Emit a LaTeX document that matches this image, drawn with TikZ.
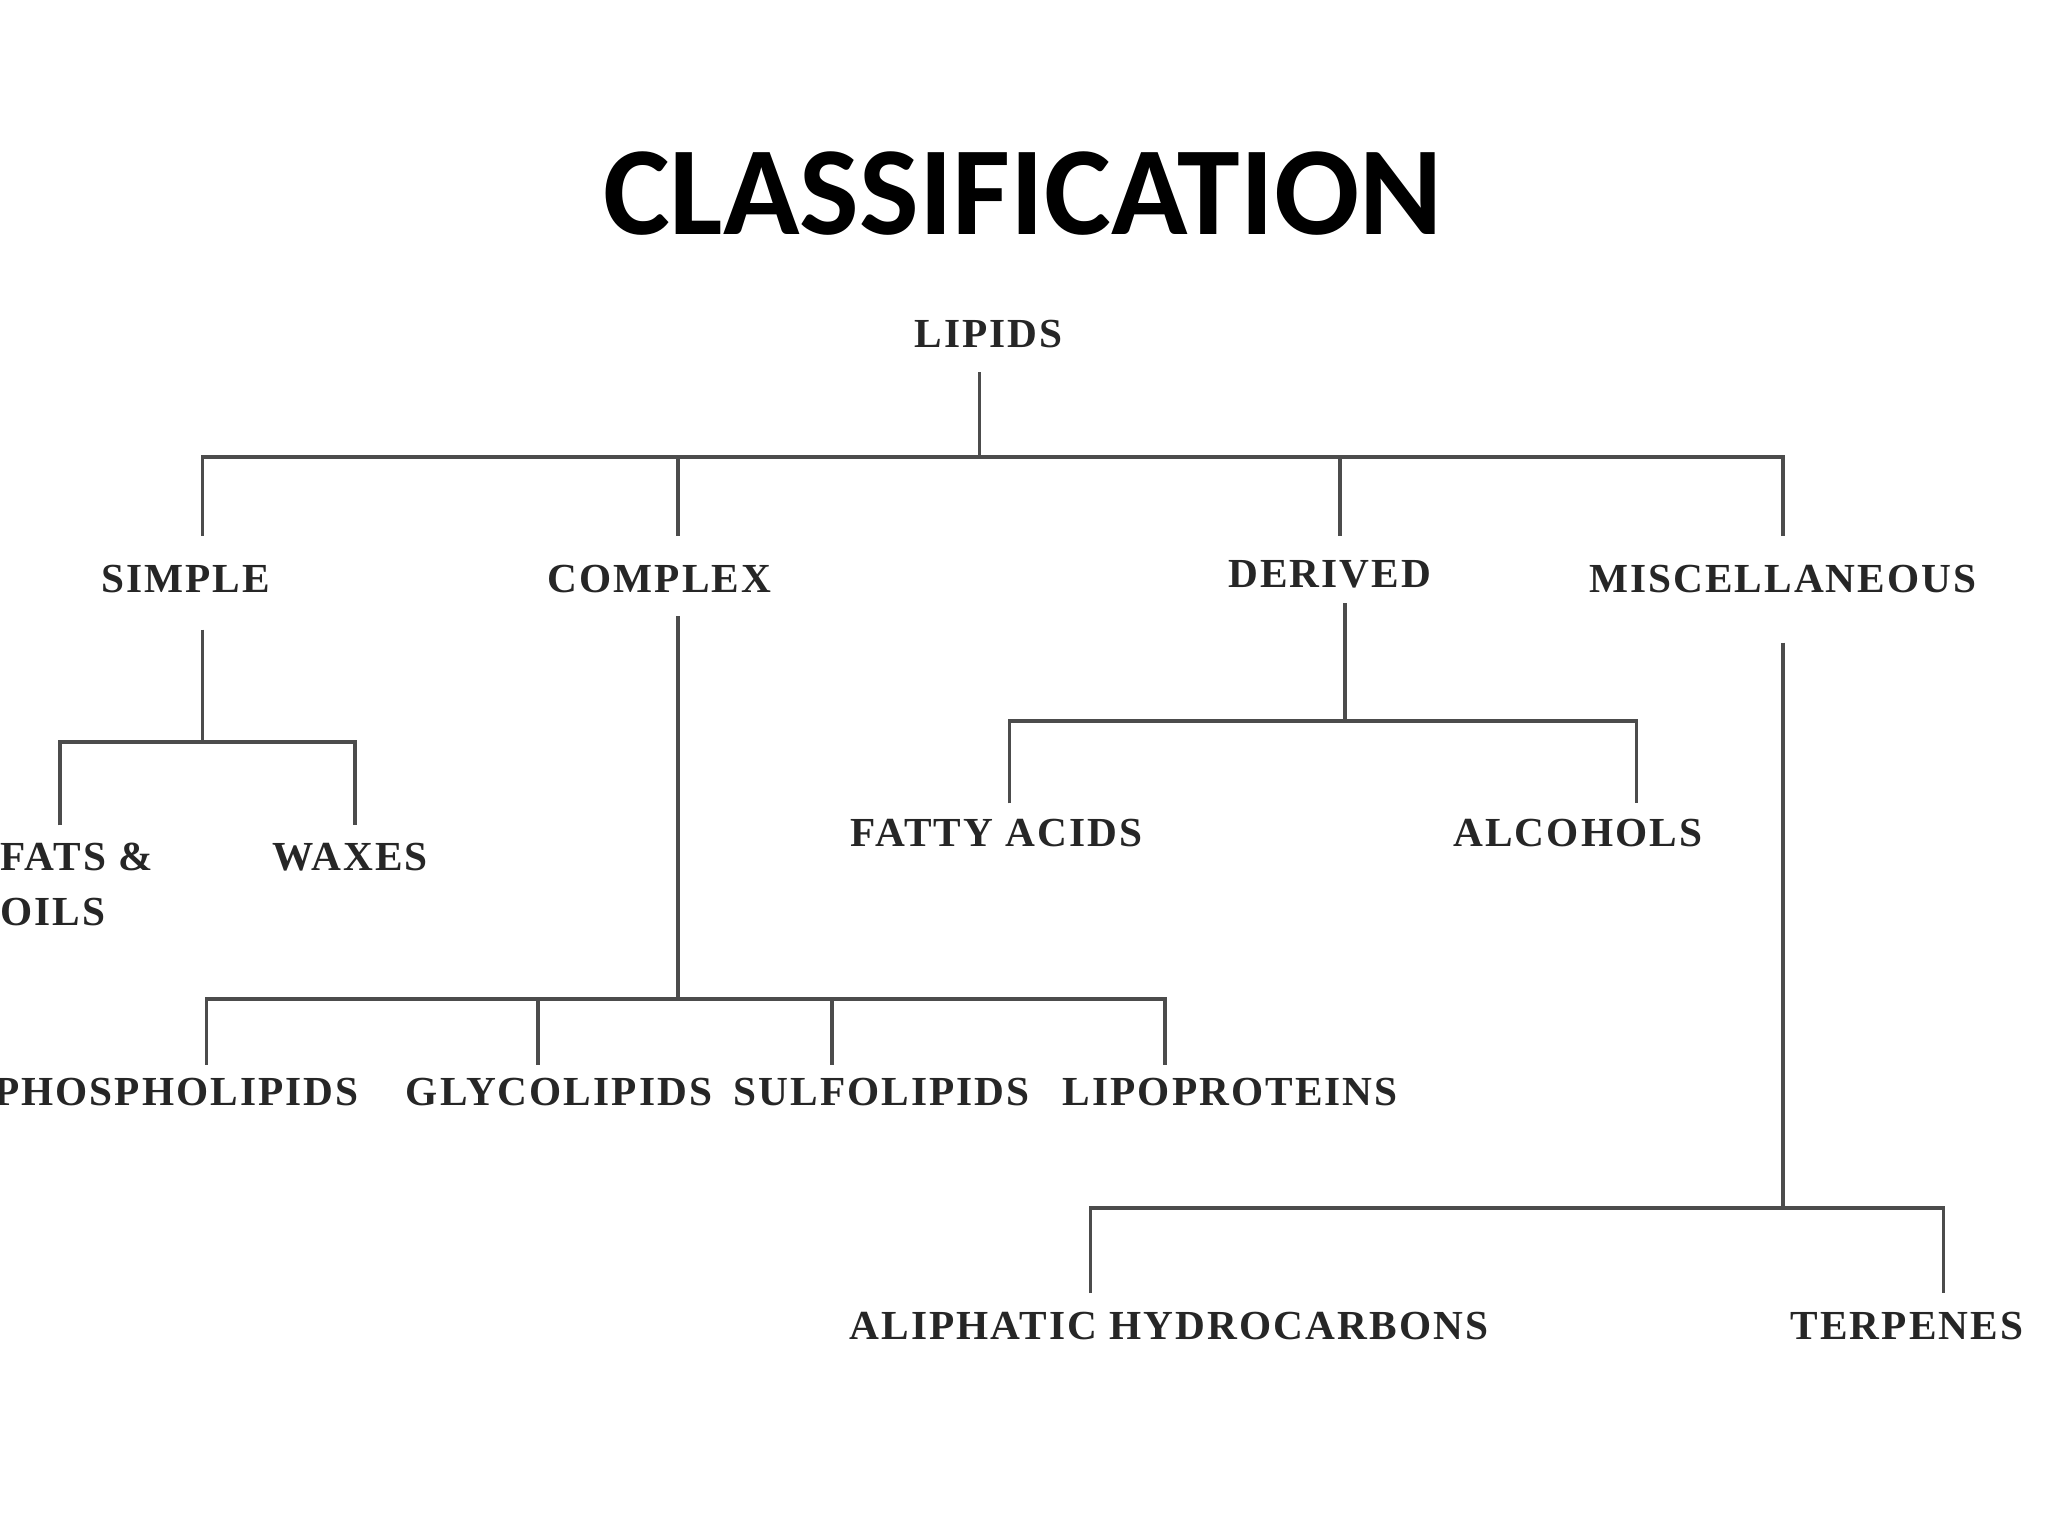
\documentclass[tikz,border=0pt]{standalone}
\usepackage{fontspec}
\setmainfont{Liberation Serif}
\newfontfamily\titlefont{Carlito}
\newfontfamily\lblfont[LetterSpace=5]{Liberation Serif}
\begin{document}
\begin{tikzpicture}[x=0.02cm,y=-0.02cm,
  lbl/.style={font=\lblfont\fontsize{18}{21}\selectfont\bfseries, text=black!85, inner sep=0pt},
  ln/.style={draw=black!70, line width=1.6pt}]
\useasboundingbox (0,0) rectangle (1568,1176);
\clip (0,0) rectangle (1568,1176);
\node[font=\titlefont\fontsize{55}{58}\selectfont\bfseries] (title) at (783,148) {CLASSIFICATION};
\node[lbl] (lipids) at (757,256) {LIPIDS};
\node[lbl] (simple) at (142,443) {SIMPLE};
\node[lbl] (complex) at (505,443) {COMPLEX};
\node[lbl] (derived) at (1018,440) {DERIVED};
\node[lbl] (misc) at (1365,443) {MISCELLANEOUS};
\node[lbl,anchor=west] (fats) at (0,656) {FATS \&};
\node[lbl,anchor=west] (oils) at (0,698) {OILS};
\node[lbl] (waxes) at (268,656) {WAXES};
\node[lbl,anchor=east] (phos) at (275,836) {PHOSPHOLIPIDS};
\node[lbl] (glyco) at (428,836) {GLYCOLIPIDS};
\node[lbl] (sulfo) at (675,836) {SULFOLIPIDS};
\node[lbl] (lipo) at (942,836) {LIPOPROTEINS};
\node[lbl] (fatty) at (763,638) {FATTY ACIDS};
\node[lbl] (alco) at (1208,638) {ALCOHOLS};
\node[lbl] (aliph) at (895,1015) {ALIPHATIC HYDROCARBONS};
\node[lbl] (terp) at (1460,1015) {TERPENES};
% main
\coordinate (l0) at (750,285); \coordinate (l1) at (750,350);
\coordinate (sa) at (155,410); \coordinate (ca) at (519,410);
\coordinate (da) at (1026,410); \coordinate (ma) at (1365,410);
\draw[ln] (l0) -- (l1);
\draw[ln] (sa) |- (l1) -| (ma);
\draw[ln] (ca) -- (519,350) (da) -- (1026,350);
% simple
\coordinate (s0) at (155,482); \coordinate (s1) at (155,568);
\coordinate (f0) at (46,632); \coordinate (w0) at (272,632);
\draw[ln] (s0) -- (s1);
\draw[ln] (f0) |- (s1) -| (w0);
% complex
\coordinate (c0) at (519,472); \coordinate (c1) at (519,765);
\coordinate (p0) at (158,815); \coordinate (g0) at (412,815);
\coordinate (su0) at (637,815); \coordinate (lp0) at (892,815);
\draw[ln] (c0) -- (c1);
\draw[ln] (p0) |- (c1) -| (lp0);
\draw[ln] (g0) -- (412,765) (su0) -- (637,765);
% derived
\coordinate (d0) at (1030,462); \coordinate (d1) at (1030,552);
\coordinate (fa0) at (773,615); \coordinate (al0) at (1253,615);
\draw[ln] (d0) -- (d1);
\draw[ln] (fa0) |- (d1) -| (al0);
% misc
\coordinate (m0) at (1365,492); \coordinate (m1) at (1365,925);
\coordinate (ah0) at (835,990); \coordinate (t0) at (1488,990);
\draw[ln] (m0) -- (m1);
\draw[ln] (ah0) |- (m1) -| (t0);
\end{tikzpicture}
\end{document}
